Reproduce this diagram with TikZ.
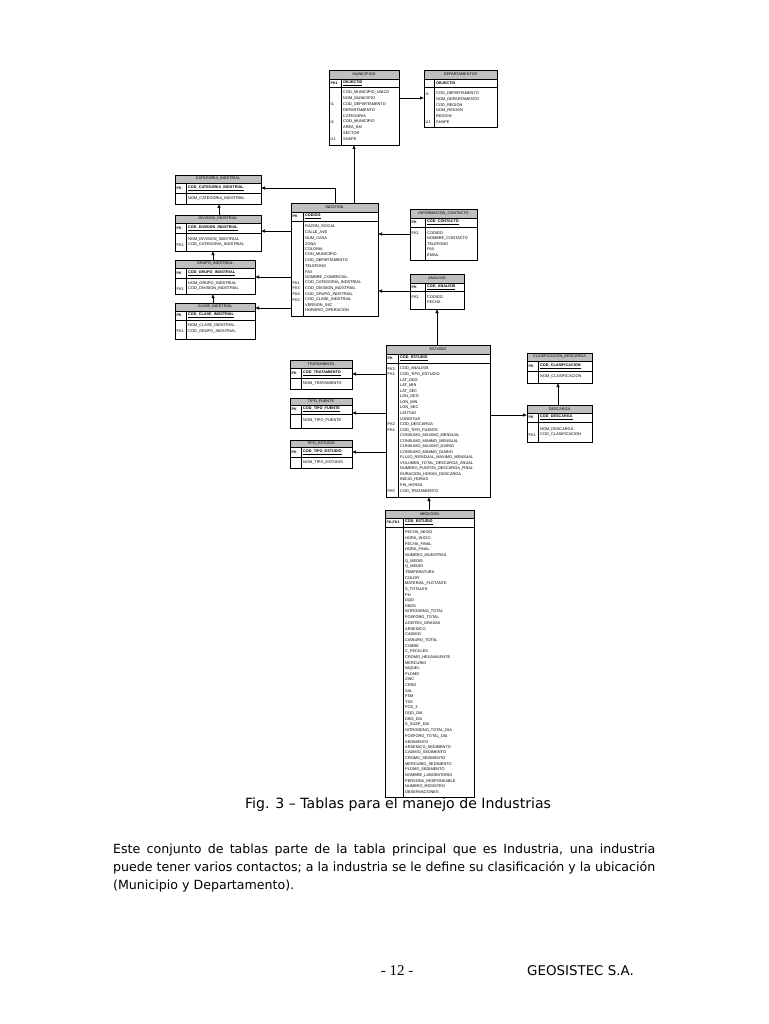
\documentclass[tikz,border=0pt]{standalone}
\usepackage{fontspec}
\usetikzlibrary{arrows.meta}
\newfontfamily\tf{Liberation Sans}
\newfontfamily\bodyf{DejaVu Sans}
\newfontfamily\serf{Liberation Serif}
\tikzset{
  tline/.style={line width=0.5pt},
  pkline/.style={line width=0.9pt},
  hdrfill/.style={fill=black!25},
  tbox/.style={draw, line width=0.6pt, inner sep=0pt, outer sep=0pt},
  ttl/.style={inner sep=0pt, font=\tf\fontsize{3.8}{4}\selectfont},
  fld/.style={anchor=west, inner sep=0pt, font=\tf\fontsize{3.9}{4}\selectfont},
  keyt/.style={anchor=west, inner sep=0pt, font=\tf\bfseries\fontsize{3.6}{4}\selectfont},
  pkt/.style={anchor=west, inner sep=0pt, font=\tf\bfseries\fontsize{3.8}{4}\selectfont},
  arr/.style={line width=0.6pt, -{Latex[length=4pt,width=3.6pt]}},
  bodytext/.style={inner sep=0pt, font=\bodyf\fontsize{12.6}{15}\selectfont},
}
% name, x1, ytop, x2, ybot, yhead, ypk, xdiv, title
\newcommand\erbox[9]{%
  \fill[hdrfill] (#2,#3) rectangle (#4,#6);
  \node[tbox, minimum width={(#4-#2)*1pt}, minimum height={(#5-#3)*1pt}, anchor=north west] (#1) at (#2,#3) {};
  \draw[tline] (#2,#6) -- (#4,#6);
  \draw[pkline] (#2,#7) -- (#4,#7);
  \draw[tline] (#8,#6) -- (#8,#5);
  \node[ttl] (#1-t) at ({(#2+#4)/2},{(#3+#6)/2}) {#9};
}
% name, x, ystart, step, list
\newcommand\fieldlist[5]{%
  \foreach \t [count=\i from 0] in {#5} {\node[fld] (#1-f\i) at (#2,{#3+\i*#4}) {\t};}
}
\newcommand\pkrow[6]{% name, xkey, xname, y, key, text
  \node[keyt] (#1-pk) at (#2,#4) {#5};
  \node[pkt] (#1-pkn) at (#3,#4) {\underline{#6}};
}
\begin{document}
\begin{tikzpicture}[x=1pt,y=-1pt]
\useasboundingbox (0,0) rectangle (768,1024);
\fill[white] (0,0) rectangle (768,1024);

% ---------- MUNICIPIOS
\erbox{muni}{329}{70}{399}{145}{79}{87}{341}{MUNICIPIOS}
\pkrow{muni}{330.5}{343}{83}{PK1}{OBJECTID}
\fieldlist{muni}{343}{93}{5.75}{COD\_MUNICIPIO\_UNICO,NOM\_MUNICIPIO,COD\_DEPARTAMENTO,DEPARTAMENTO,CATEGORIA,COD\_MUNICIPIO,AREA\_KM,SECTOR,SHAPE}
\node[fld] (muni-k1) at (330.5,104.5) {I1};
\node[fld] (muni-k2) at (330.5,121.75) {I1};
\node[fld] (muni-k3) at (330.5,139) {U1};

% ---------- DEPARTAMENTOS
\erbox{depto}{424}{70}{497}{127}{79}{87}{434}{DEPARTAMENTOS}
\node[pkt] (depto-pkn) at (436,83) {OBJECTID};
\fieldlist{depto}{436}{94}{5.6}{COD\_DEPARTAMENTO,NOM\_DEPARTAMENTO,COD\_REGION,NOM\_REGION,REGION,SHAPE}
\node[fld] (depto-k1) at (425.5,94) {I1};
\node[fld] (depto-k2) at (425.5,122) {U1};

% ---------- CATEGORIA
\erbox{cat}{175}{175}{261}{204}{183}{193}{186}{CATEGORIA\_INDSTRIAL}
\pkrow{cat}{176.5}{188}{188}{PK}{COD\_CATEGORIA\_INDSTRIAL}
\fieldlist{cat}{188}{198.5}{5.5}{NOM\_CATEGORIA\_INDSTRIAL}

% ---------- DIVISION
\erbox{div}{175}{215}{261}{251}{223}{233}{186}{DIVISION\_INDSTRIAL}
\pkrow{div}{176.5}{188}{228}{PK}{COD\_DIVISION\_INDSTRIAL}
\fieldlist{div}{188}{239.5}{5.5}{NOM\_DIVISION\_INDSTRIAL,COD\_CATEGORIA\_INDSTRIAL}
\node[fld] (div-k1) at (176.5,245) {FK1};

% ---------- GRUPO
\erbox{grp}{175}{260}{255}{294}{268}{278}{186}{GRUPO\_INDSTRIAL}
\pkrow{grp}{176.5}{188}{273}{PK}{COD\_GRUPO\_INDSTRIAL}
\fieldlist{grp}{188}{283.5}{5.5}{NOM\_GRUPO\_INDSTRIAL,COD\_DIVISION\_INDSTRIAL}
\node[fld] (grp-k1) at (176.5,289) {FK1};

% ---------- CLASE
\erbox{cls}{175}{303}{255}{339}{311}{320}{186}{CLASE\_INDSTRIAL}
\pkrow{cls}{176.5}{188}{315.5}{PK}{COD\_CLASE\_INDSTRIAL}
\fieldlist{cls}{188}{326}{5.5}{NOM\_CLASE\_INDSTRIAL,COD\_GRUPO\_INDSTRIAL}
\node[fld] (cls-k1) at (176.5,331.5) {FK1};

% ---------- INDUSTRIA
\erbox{ind}{291}{203}{378}{316}{212}{221}{303}{INDSTRIA}
\pkrow{ind}{292.5}{305}{216.5}{PK}{CODIGO}
\fieldlist{ind}{305}{227}{5.6}{RAZON\_SOCIAL,CALLE\_AVE,NUM\_CASA,ZONA,COLONIA,COD\_MUNICIPIO,COD\_DEPARTAMENTO,TELEFONO,FAX,NOMBRE\_COMERCIAL,COD\_CATEGORIA\_INDSTRIAL,COD\_DIVISION\_INDSTRIAL,COD\_GRUPO\_INDSTRIAL,COD\_CLASE\_INDSTRIAL,VERSION\_SIIC,HORARIO\_OPERACION}
\node[fld] (ind-k1) at (292.5,283) {FK1};
\node[fld] (ind-k2) at (292.5,288.6) {FK3};
\node[fld] (ind-k3) at (292.5,294.2) {FK4};
\node[fld] (ind-k4) at (292.5,299.8) {FK2};

% ---------- INFORMACION_CONTACTO
\erbox{info}{410}{209}{477}{260}{218}{227}{425}{INFORMACION\_CONTACTO}
\pkrow{info}{411.5}{427}{222.5}{PK}{COD\_CONTACTO}
\fieldlist{info}{427}{233}{5.5}{CODIGO,NOMBRE\_CONTACTO,TELEFONO,FAX,EMAIL}
\node[fld] (info-k1) at (411.5,233) {FK1};

% ---------- ANALISIS
\erbox{ana}{410}{274}{464}{309}{283}{291}{425}{ANALISIS}
\pkrow{ana}{411.5}{427}{287}{PK}{COD\_ANALISIS}
\fieldlist{ana}{427}{297}{5.5}{CODIGO,FECHA}
\node[fld] (ana-k1) at (411.5,297) {FK1};

% ---------- ESTUDIO
\erbox{est}{386}{345}{490}{497}{354}{363}{398}{ESTUDIO}
\pkrow{est}{387.5}{400}{358.5}{PK}{COD\_ESTUDIO}
\fieldlist{est}{400}{369}{5.55}{COD\_ANALISIS,COD\_TIPO\_ESTUDIO,LAT\_DEG,LAT\_MIN,LAT\_SEC,LON\_DEG,LON\_MIN,LON\_SEC,LATITUD,LONGITUD,COD\_DESCARGA,COD\_TIPO\_FUENTE,CONSUMO\_MAXIMO\_MENSUAL,CONSUMO\_MINIMO\_MENSUAL,CONSUMO\_MAXIMO\_DIARIO,CONSUMO\_MINIMO\_DIARIO,FLUJO\_RESIDUAL\_MAXIMO\_MENSUAL,VOLUMEN\_TOTAL\_DESCARGA\_ANUAL,NUMERO\_PUNTOS\_DESCARGA\_FINAL,DURACION\_HORAS\_DESCARGA,INICIO\_HORAS,FIN\_HORAS,COD\_TRATAMIENTO}
\node[fld] (est-k1) at (387.5,369) {FK3};
\node[fld] (est-k2) at (387.5,374.55) {FK1};
\node[fld] (est-k3) at (387.5,424.5) {FK2};
\node[fld] (est-k4) at (387.5,430.05) {FK4};
\node[fld] (est-k5) at (387.5,491.1) {FK5};

% ---------- TRATAMIENTO / TIPO_FUENTE / TIPO_ESTUDIO
\erbox{trat}{290}{360}{352}{389}{368}{378}{301}{TRATAMIENTO}
\pkrow{trat}{291.5}{303}{373}{PK}{COD\_TRATAMIENTO}
\fieldlist{trat}{303}{383.5}{5.5}{NOM\_TRATAMIENTO}

\erbox{tfu}{290}{398}{352}{428}{405}{414}{301}{TIPO\_FUENTE}
\pkrow{tfu}{291.5}{303}{409.5}{PK}{COD\_TIPO\_FUENTE}
\fieldlist{tfu}{303}{421}{5.5}{NOM\_TIPO\_FUENTE}

\erbox{tes}{290}{440}{352}{468}{447}{457}{301}{TIPO\_ESTUDIO}
\pkrow{tes}{291.5}{303}{452}{PK}{COD\_TIPO\_ESTUDIO}
\fieldlist{tes}{303}{462.5}{5.5}{NOM\_TIPO\_ESTUDIO}

% ---------- CLASIFICACION_DESCARGA / DESCARGA
\erbox{clas}{527}{353}{592}{383}{361}{371}{538}{CLASIFICACION\_DESCARGA}
\pkrow{clas}{528.5}{540}{366}{PK}{COD\_CLASIFICACION}
\fieldlist{clas}{540}{377}{5.5}{NOM\_CLASIFICACION}

\erbox{desc}{527}{405}{592}{442}{413}{422}{538}{DESCARGA}
\pkrow{desc}{528.5}{540}{417.5}{PK}{COD\_DESCARGA}
\fieldlist{desc}{540}{429.5}{5.5}{NOM\_DESCARGA,COD\_CLASIFICACION}
\node[fld] (desc-k1) at (528.5,435) {FK1};

% ---------- MEDICION
\erbox{med}{385}{510}{474}{797}{518}{527}{403}{MEDICION}
\pkrow{med}{386.5}{405}{522.5}{PK,FK1}{COD\_ESTUDIO}
\fieldlist{med}{405}{533}{5.64}{FECHA\_INICIO,HORA\_INICIO,FECHA\_FINAL,HORA\_FINAL,NUMERO\_MUESTRAS,Q\_MEDIS,Q\_MEDIO,TEMPERATURA,COLOR,MATERIAL\_FLOTANTE,S\_TOTALES,PH,DQO,DBO5,NITROGENO\_TOTAL,FOSFORO\_TOTAL,ACEITES\_GRASAS,ARSENICO,CADMIO,CIANURO\_TOTAL,COBRE,C\_FECALES,CROMO\_HEXAVALENTE,MERCURIO,NIQUEL,PLOMO,ZINC,CERO,SAL,FSM,TSS,FOS\_3,DQO\_DIA,DBO\_DIA,S\_SUSP\_DIA,NITROGENO\_TOTAL\_DIA,FOSFORO\_TOTAL\_DIA,SEDIMENTO,ARSENICO\_SEDIMENTO,CADMIO\_SEDIMENTO,CROMO\_SEDIMENTO,MERCURIO\_SEDIMENTO,PLOMO\_SEDIMENTO,NOMBRE\_LABORATORIO,PERSONA\_RESPONSABLE,NUMERO\_REGISTRO,OBSERVACIONES}

% ---------- connectors
\draw[arr] (muni.east |- 0,98) -- (depto.west |- 0,98);
\draw[arr] (ind.north -| 354,0) -- (muni.south -| 354,0);
\draw[arr] (ind.north -| 335,0) |- (cat.east |- 0,188);
\draw[arr] (div.north -| 219,0) -- (cat.south -| 219,0);
\draw[arr] (ind.west |- 0,231) -- (div.east |- 0,231);
\draw[arr] (grp.north -| 213,0) -- (div.south -| 213,0);
\draw[arr] (ind.west |- 0,277) -- (grp.east |- 0,277);
\draw[arr] (cls.north -| 213,0) -- (grp.south -| 213,0);
\draw[arr] (ind.west |- 0,308) -- (cls.east |- 0,308);
\draw[arr] (info.west |- 0,234) -- (ind.east |- 0,234);
\draw[arr] (ana.west |- 0,291) -- (ind.east |- 0,291);
\draw[arr] (est.north -| 437,0) -- (ana.south -| 437,0);
\draw[arr] (est.west |- 0,374) -- (trat.east |- 0,374);
\draw[arr] (est.west |- 0,413) -- (tfu.east |- 0,413);
\draw[arr] (est.west |- 0,452) -- (tes.east |- 0,452);
\draw[arr] (est.east |- 0,415) -- (desc.west |- 0,415);
\draw[arr] (desc.north -| 558,0) -- (clas.south -| 558,0);
\draw[arr] (med.north -| 429,0) -- (est.south -| 429,0);

% ---------- text
\node[inner sep=0pt, anchor=base, font=\bodyf\fontsize{14.1}{16}\selectfont] (cap) at (398,808.5) {Fig. 3 – Tablas para el manejo de Industrias};
\node[bodytext, anchor=base west] (p1) at (113,853) {\makebox[542pt][s]{Este conjunto de tablas parte de la tabla principal que es Industria, una industria}};
\node[bodytext, anchor=base west] (p2) at (113,871) {\makebox[542pt][s]{puede tener varios contactos; a la industria se le define su clasificación y la ubicación}};
\node[bodytext, anchor=base west] (p3) at (113,889) {(Municipio y Departamento).};
\node[inner sep=0pt, anchor=base, font=\serf\fontsize{15}{17}\selectfont] (pg) at (397,975) {- 12 -};
\node[inner sep=0pt, anchor=base west, font=\bodyf\fontsize{13.4}{15}\selectfont] (geo) at (527,975) {GEOSISTEC S.A.};
\end{tikzpicture}
\end{document}
